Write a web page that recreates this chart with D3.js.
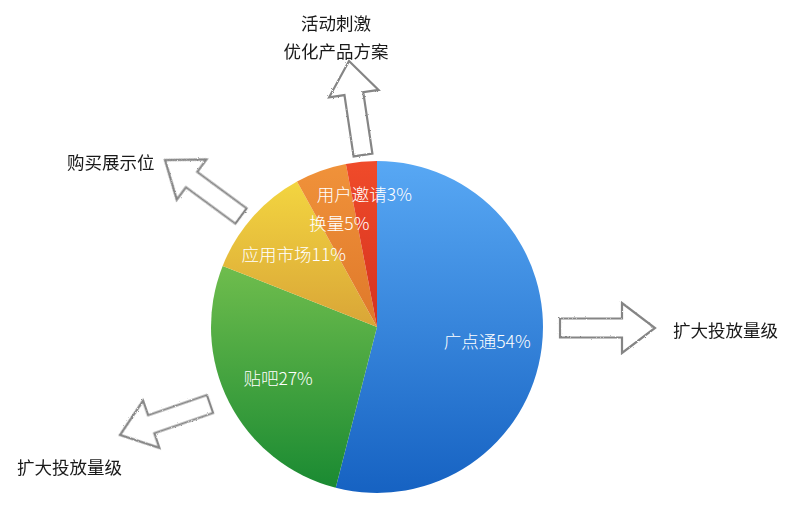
<!DOCTYPE html>
<html><head><meta charset="utf-8">
<script src="https://cdn.jsdelivr.net/npm/d3@7"></script>
<style>
html,body{margin:0;padding:0;background:#fff;}
svg{display:block;}
</style></head>
<body>
<svg id="chart" width="800" height="518"></svg>
<script>
// ---- data ----
const categories = ["广点通", "贴吧", "应用市场", "换量", "用户邀请"];
const values = [54, 27, 11, 5, 3];
const topColors = ["#58a8f4", "#6fbd4d", "#f3d540", "#f0923a", "#f04b2a"];
const bottomColors = ["#1662c2", "#1a8a32", "#d9a537", "#df782a", "#d4311f"];

const actionTexts = [
  ["活动刺激", "优化产品方案"],
  ["扩大投放量级"],
  ["扩大投放量级"],
  ["购买展示位"]
];
// arrows: base point and tip point
const arrows = [
  {base:[363,155], tip:[349,61]},
  {base:[560,328], tip:[655,328]},
  {base:[210,404], tip:[120,435]},
  {base:[241,216], tip:[165,160]}
];
const textAnchors = [
  {x:336, y:22, anchor:"middle"},
  {x:673, y:329, anchor:"start"},
  {x:17, y:466, anchor:"start"},
  {x:67, y:161, anchor:"start"}
];

const svg = d3.select("#chart");
const defs = svg.append("defs");

// rough sketch filter
const f = defs.append("filter").attr("id","rough").attr("x","-10%").attr("y","-10%").attr("width","120%").attr("height","120%");
f.append("feTurbulence").attr("type","fractalNoise").attr("baseFrequency",0.8).attr("numOctaves",2).attr("result","n");
f.append("feDisplacementMap").attr("in","SourceGraphic").attr("in2","n").attr("scale",2.2);

categories.forEach((c,i)=>{
  const g = defs.append("linearGradient").attr("id","g"+i).attr("x1",0).attr("y1",0).attr("x2",0).attr("y2",1);
  g.append("stop").attr("offset","0%").attr("stop-color",topColors[i]);
  g.append("stop").attr("offset","100%").attr("stop-color",bottomColors[i]);
});

const cx = 377, cy = 327, R = 166;
const pie = d3.pie().sort(null).value(d=>d.v);
const arcs = pie(categories.map((c,i)=>({c, v:values[i], i})));
const arc = d3.arc().innerRadius(0).outerRadius(R);

const pg = svg.append("g").attr("transform",`translate(${cx},${cy})`);
pg.selectAll("path").data(arcs).enter().append("path")
  .attr("d",arc)
  .attr("fill",d=>`url(#g${d.data.i})`);

pg.selectAll("text").data(arcs).enter().append("text")
  .attr("transform",d=>{
    const r = d.data.v < 4 ? 134 : 111;
    const c = d3.arc().innerRadius(r).outerRadius(r).centroid(d);
    return `translate(${c[0]},${c[1]})`;
  })
  .attr("text-anchor","middle")
  .attr("dominant-baseline","central")
  .attr("fill","#fff")
  .style("font-family","'Noto Sans CJK SC', sans-serif")
  .style("font-weight",300)
  .style("font-size","17.5px")
  .text(d=>d.data.c + d.data.v + "%");

// arrows
const shaftHalf = 9.5, headHalf = 25, headLen = 33;
const ag = svg.append("g").attr("filter","url(#rough)");
arrows.forEach(a=>{
  const dx = a.tip[0]-a.base[0], dy = a.tip[1]-a.base[1];
  const L = Math.hypot(dx,dy);
  const ang = Math.atan2(dy,dx)*180/Math.PI;
  const pts = [[0,-shaftHalf],[L-headLen,-shaftHalf],[L-headLen,-headHalf],[L,0],[L-headLen,headHalf],[L-headLen,shaftHalf],[0,shaftHalf]];
  ag.append("path")
    .attr("transform",`translate(${a.base[0]},${a.base[1]}) rotate(${ang})`)
    .attr("d",d3.line()(pts)+"Z")
    .attr("fill","#fff")
    .attr("stroke","#858585")
    .attr("stroke-width",2.2)
    .attr("stroke-linejoin","miter");
});

// action texts
actionTexts.forEach((lines,i)=>{
  const t = textAnchors[i];
  lines.forEach((s,j)=>{
    svg.append("text")
      .attr("x",t.x).attr("y",t.y + j*28)
      .attr("text-anchor",t.anchor)
      .attr("dominant-baseline","central")
      .attr("fill","#1a1a1a")
      .style("font-family","'Noto Sans CJK SC', sans-serif")
      .style("font-weight",400)
      .style("font-size","17.5px")
      .text(s);
  });
});
</script>
</body></html>
